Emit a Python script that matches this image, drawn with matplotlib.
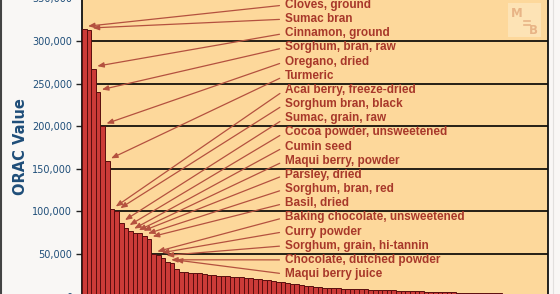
import matplotlib
matplotlib.use("Agg")
import matplotlib.pyplot as plt
from matplotlib.lines import Line2D
from matplotlib.patches import Rectangle

# Noms des 20 aliments annotés (dans l'ordre des barres)
food_names = [
    "Cloves, ground", "Sumac bran", "Cinnamon, ground", "Sorghum, bran, raw",
    "Oregano, dried", "Turmeric", "Acai berry, freeze-dried", "Sorghum bran, black",
    "Sumac, grain, raw", "Cocoa powder, unsweetened", "Cumin seed",
    "Maqui berry, powder", "Parsley, dried", "Sorghum, bran, red", "Basil, dried",
    "Baking chocolate, unsweetened", "Curry powder", "Sorghum, grain, hi-tannin",
    "Chocolate, dutched powder", "Maqui berry juice",
]

# Valeurs ORAC des barres annotées
top_values = [
    314446, 312400, 267536, 240000, 200129, 159277, 102700, 100800, 86800, 80933,
    76800, 75000, 74349, 71000, 67553, 49926, 48504, 45400, 40200, 40000,
]

# Valeurs des autres barres (non annotées)
other_values = [
    32000, 29300, 28800, 27600, 27400, 27300, 26000,
    25000, 24800, 24500, 24000, 23700, 23400, 23000, 22500, 22000, 21500, 21000, 20300, 19600,
    19000, 18200, 17500, 16800, 16000, 15200, 14400, 13600, 12800, 12000,
    11600, 11000, 10600, 10200, 9900, 9600, 9400, 9200, 9000, 8800,
    8600, 8400, 8200, 8000, 7800, 7600, 7400, 7200, 7000, 6800,
    6600, 6400, 6200, 6000, 5800, 5600, 5500, 5300, 5200, 5000,
    4900, 4700, 4600, 4500, 4400, 4200, 4100, 4000, 3900, 3800,
    3700, 3600, 3400, 3300,
]

y_ticks = [0, 50000, 100000, 150000, 200000, 250000, 300000, 350000]

values = top_values + other_values
positions = list(range(len(values)))

bg_plot = '#FDD89B'
text_red = '#A8382A'
arrow_red = '#B4513F'
axis_blue = '#1F4E79'
logo_color = '#E8B486'

fig = plt.figure(figsize=(5.6, 2.94), dpi=100)
fig.set_facecolor('#F9F7F5')

"""Zone de tracé volontairement plus haute que la figure (image rognée)"""
ax = fig.add_axes([82 / 560, -2.6 / 294, 466 / 560, 298.2 / 294])
ax.set_facecolor(bg_plot)

ax.bar(positions, values, width=1.0, color='#CC3B38', edgecolor='#5A0E0E',
       linewidth=0.7, zorder=3)

ax.set_xlim(-0.5, 100.4)
ax.set_ylim(0, 350000)
ax.set_yticks(y_ticks)
ax.set_yticklabels([f"{v:,}" for v in y_ticks], fontsize=7, color=axis_blue)
ax.set_xticks([])
ax.tick_params(axis='y', length=4, width=1, color='#222222', pad=3)

for v in y_ticks[1:-1]:
    ax.axhline(v, color='black', linewidth=1.2, zorder=1)

for side in ['left', 'right']:
    ax.spines[side].set_color('#111111')
    ax.spines[side].set_linewidth(1.3)
ax.spines['top'].set_visible(False)
ax.spines['bottom'].set_color('#111111')

fig.text(21 / 560, 0.5, "ORAC Value", rotation=90, ha='center', va='center',
         fontsize=10.5, fontweight='bold', color=axis_blue)

"""Étiquettes avec flèches vers chaque barre"""
label_x = (285 - 82) / 466
for i, name in enumerate(food_names):
    y_pix = 5 + 14.16 * i
    label_y = (296.6 - y_pix) / 298.2
    ax.annotate(name, xy=(i + 0.8, values[i] + 3000), xycoords='data',
                xytext=(label_x, label_y), textcoords='axes fraction',
                ha='left', va='center', fontsize=8.5, fontweight='bold',
                family='Liberation Sans', color=text_red, zorder=5,
                arrowprops=dict(arrowstyle='-|>,head_length=0.45,head_width=0.18',
                                color=arrow_red, lw=0.9, relpos=(0, 0.5),
                                shrinkA=2, shrinkB=0))

"""Petit logo en filigrane"""
ax.add_patch(Rectangle((0.915, 0.87), 0.07, 0.115, transform=ax.transAxes,
                       facecolor='#FDE3B5', edgecolor='none', zorder=2))
ax.text(0.933, 0.95, "M", transform=ax.transAxes, ha='center', va='center',
        fontsize=8.5, fontweight='bold', color=logo_color, zorder=3)
ax.text(0.969, 0.893, "B", transform=ax.transAxes, ha='center', va='center',
        fontsize=8.5, fontweight='bold', color=logo_color, zorder=3)
for yy in [0.925, 0.912]:
    ax.plot([0.948, 0.962], [yy, yy], transform=ax.transAxes,
            color=logo_color, linewidth=1.2, zorder=3)

fig.add_artist(Line2D([0.0015, 0.0015], [0, 1], transform=fig.transFigure,
                      color='#444444', linewidth=1.5))
fig.add_artist(Line2D([553 / 560, 553 / 560], [0, 1], transform=fig.transFigure,
                      color='#E2E0DE', linewidth=0.8))

fig.savefig('out.png', dpi=100, facecolor=fig.get_facecolor())
